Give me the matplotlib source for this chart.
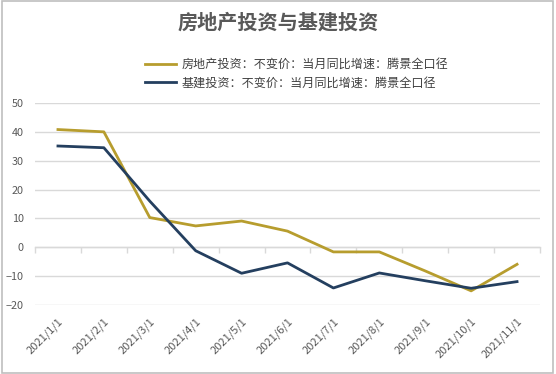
import matplotlib
matplotlib.use("Agg")
import matplotlib.pyplot as plt
from matplotlib.patches import Rectangle

plt.rcParams['font.family'] = ['Noto Sans CJK SC', 'DejaVu Sans']

categories = ["2021/1/1", "2021/2/1", "2021/3/1", "2021/4/1", "2021/5/1", "2021/6/1",
              "2021/7/1", "2021/8/1", "2021/9/1", "2021/10/1", "2021/11/1"]
real_estate = [40.8, 40.0, 10.3, 7.4, 9.1, 5.6, -1.6, -1.6, -8.2, -15.1, -5.9]
infrastructure = [35.1, 34.5, 16.0, -1.2, -9.0, -5.4, -14.1, -8.9, -11.6, -14.2, -11.9]
yticks = [-20, -10, 0, 10, 20, 30, 40, 50]

title = "房地产投资与基建投资"
label_re = "房地产投资：不变价：当月同比增速：腾景全口径"
label_inf = "基建投资：不变价：当月同比增速：腾景全口径"

gold = "#B79D2E"
navy = "#243F5F"
gray_txt = "#595959"
grid_c = "#D9D9D9"

fig = plt.figure(figsize=(5.56, 3.74), dpi=100)
fig.patches.append(Rectangle((0.004, 0.004), 0.99, 0.992, transform=fig.transFigure,
                             fill=False, edgecolor="#BFBFBF", linewidth=1.2))

ax = fig.add_axes([35/556, (374-305)/374, (540-35)/556, (305-103)/374])
x = list(range(len(categories)))
ax.plot(x, real_estate, color=gold, linewidth=2.0, label=label_re)
ax.plot(x, infrastructure, color=navy, linewidth=2.0, label=label_inf)

ax.set_xlim(-0.5, len(categories) - 0.5)
ax.set_ylim(-20, 50)
ax.set_yticks(yticks)
ax.yaxis.grid(True, color=grid_c, linewidth=1.0)
ax.set_axisbelow(True)
for s in ax.spines.values():
    s.set_visible(False)
ax.tick_params(axis='y', length=0, labelsize=7.8, labelcolor=gray_txt, pad=8)

ax.set_xticks(x)
ax.set_xticklabels(categories, rotation=45, ha='right', rotation_mode='anchor',
                   fontsize=8, color=gray_txt)
ax.tick_params(axis='x', length=0, pad=8)

# category axis crossing at zero
sec = ax.secondary_xaxis(20/70)
sec.spines['bottom'].set_color(grid_c)
sec.spines['bottom'].set_linewidth(1.0)
sec.set_xticks([i - 0.5 for i in range(len(categories) + 1)])
sec.set_xticklabels([])
sec.tick_params(axis='x', direction='out', length=4, color=grid_c, width=1.0)

fig.text(0.5, 1 - 22/374, title, ha='center', va='center', fontsize=14.5,
         fontweight='bold', color=gray_txt)

leg = fig.legend(loc='upper left', bbox_to_anchor=(145/556, 1 - 58/374), frameon=False,
                 fontsize=8.7, handlelength=2.6, handletextpad=0.4, labelspacing=0.45,
                 borderaxespad=0, borderpad=0)
for t in leg.get_texts():
    t.set_color("#404040")

fig.savefig("out.png", dpi=100)
